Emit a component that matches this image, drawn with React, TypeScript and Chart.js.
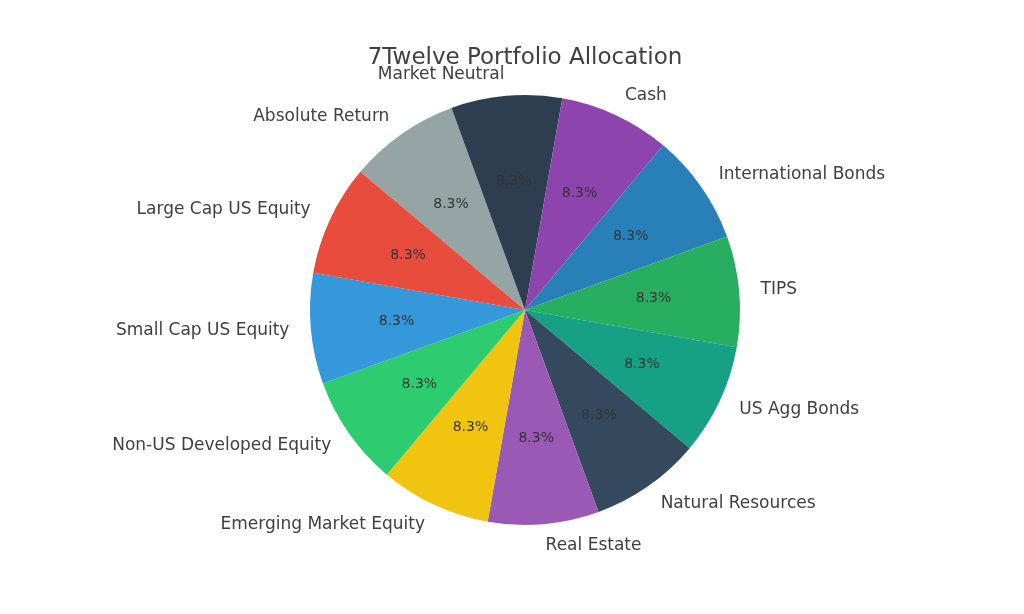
import React, { useEffect, useRef } from "react";
import { Chart, registerables } from "chart.js";

Chart.register(...registerables);

// Categories in matplotlib (counter-clockwise) order, starting at 140°
const categories = [
  "Large Cap US Equity",
  "Small Cap US Equity",
  "Non-US Developed Equity",
  "Emerging Market Equity",
  "Real Estate",
  "Natural Resources",
  "US Agg Bonds",
  "TIPS",
  "International Bonds",
  "Cash",
  "Market Neutral",
  "Absolute Return",
];
const allocations = [8.33, 8.33, 8.33, 8.33, 8.33, 8.33, 8.33, 8.33, 8.33, 8.33, 8.33, 8.33];
const sliceColors = [
  "#e74c3c",
  "#3498db",
  "#2ecc71",
  "#f1c40f",
  "#9b59b6",
  "#34495e",
  "#16a085",
  "#27ae60",
  "#2980b9",
  "#8e44ad",
  "#2c3e50",
  "#95a5a6",
];
const titleText = "7Twelve Portfolio Allocation";
const START_ANGLE = 140; // degrees, counter-clockwise from east

const FONT = "'DejaVu Sans', sans-serif";
const TEXT_COLOR = "#404040";

// Chart.js draws clockwise; reverse to keep matplotlib's counter-clockwise order
const cjLabels = [...categories].reverse();
const cjValues = [...allocations].reverse();
const cjColors = [...sliceColors].reverse();

const labelPlugin = {
  id: "pieLabels",
  afterDatasetsDraw(chart: any) {
    const ctx = chart.ctx;
    const meta = chart.getDatasetMeta(0);
    const total = cjValues.reduce((a, b) => a + b, 0);
    ctx.save();
    meta.data.forEach((arc: any, i: number) => {
      const { x, y, startAngle, endAngle, outerRadius } = arc.getProps(
        ["x", "y", "startAngle", "endAngle", "outerRadius"],
        true
      );
      const mid = (startAngle + endAngle) / 2;
      const cx = Math.cos(mid);
      const cy = Math.sin(mid);
      // outer label at 1.1 r
      const lx = x + cx * outerRadius * 1.1;
      const ly = y + cy * outerRadius * 1.1;
      ctx.font = `17px ${FONT}`;
      ctx.fillStyle = TEXT_COLOR;
      ctx.textBaseline = "middle";
      ctx.textAlign = cx >= 0 ? "left" : "right";
      ctx.fillText(cjLabels[i], lx, ly);
      // percentage at 0.6 r
      const px = x + cx * outerRadius * 0.6;
      const py = y + cy * outerRadius * 0.6;
      ctx.font = `14px ${FONT}`;
      ctx.fillStyle = "#333333";
      ctx.textAlign = "center";
      ctx.fillText(((cjValues[i] / total) * 100).toFixed(1) + "%", px, py);
    });
    // title
    ctx.font = `23px ${FONT}`;
    ctx.fillStyle = TEXT_COLOR;
    ctx.textAlign = "center";
    ctx.textBaseline = "middle";
    ctx.fillText(titleText, 525, 58);
    ctx.restore();
  },
};

export default function App() {
  const ref = useRef<HTMLCanvasElement>(null);
  useEffect(() => {
    document.body.style.margin = "0";
    const chart = new Chart(ref.current!, {
      type: "pie",
      data: {
        labels: cjLabels,
        datasets: [
          {
            data: cjValues,
            backgroundColor: cjColors,
            borderWidth: 0,
            hoverOffset: 0,
          },
        ],
      },
      options: {
        animation: false,
        responsive: false,
        rotation: 90 - START_ANGLE,
        layout: { padding: { top: 95, bottom: 89, left: 100, right: 74 } },
        plugins: {
          legend: { display: false },
          tooltip: { enabled: false },
          title: { display: false },
        },
      },
      plugins: [labelPlugin],
    });
    return () => chart.destroy();
  }, []);
  return (
    <div style={{ width: 1024, height: 614, background: "#fff" }}>
      <canvas ref={ref} width={1024} height={614} />
    </div>
  );
}
